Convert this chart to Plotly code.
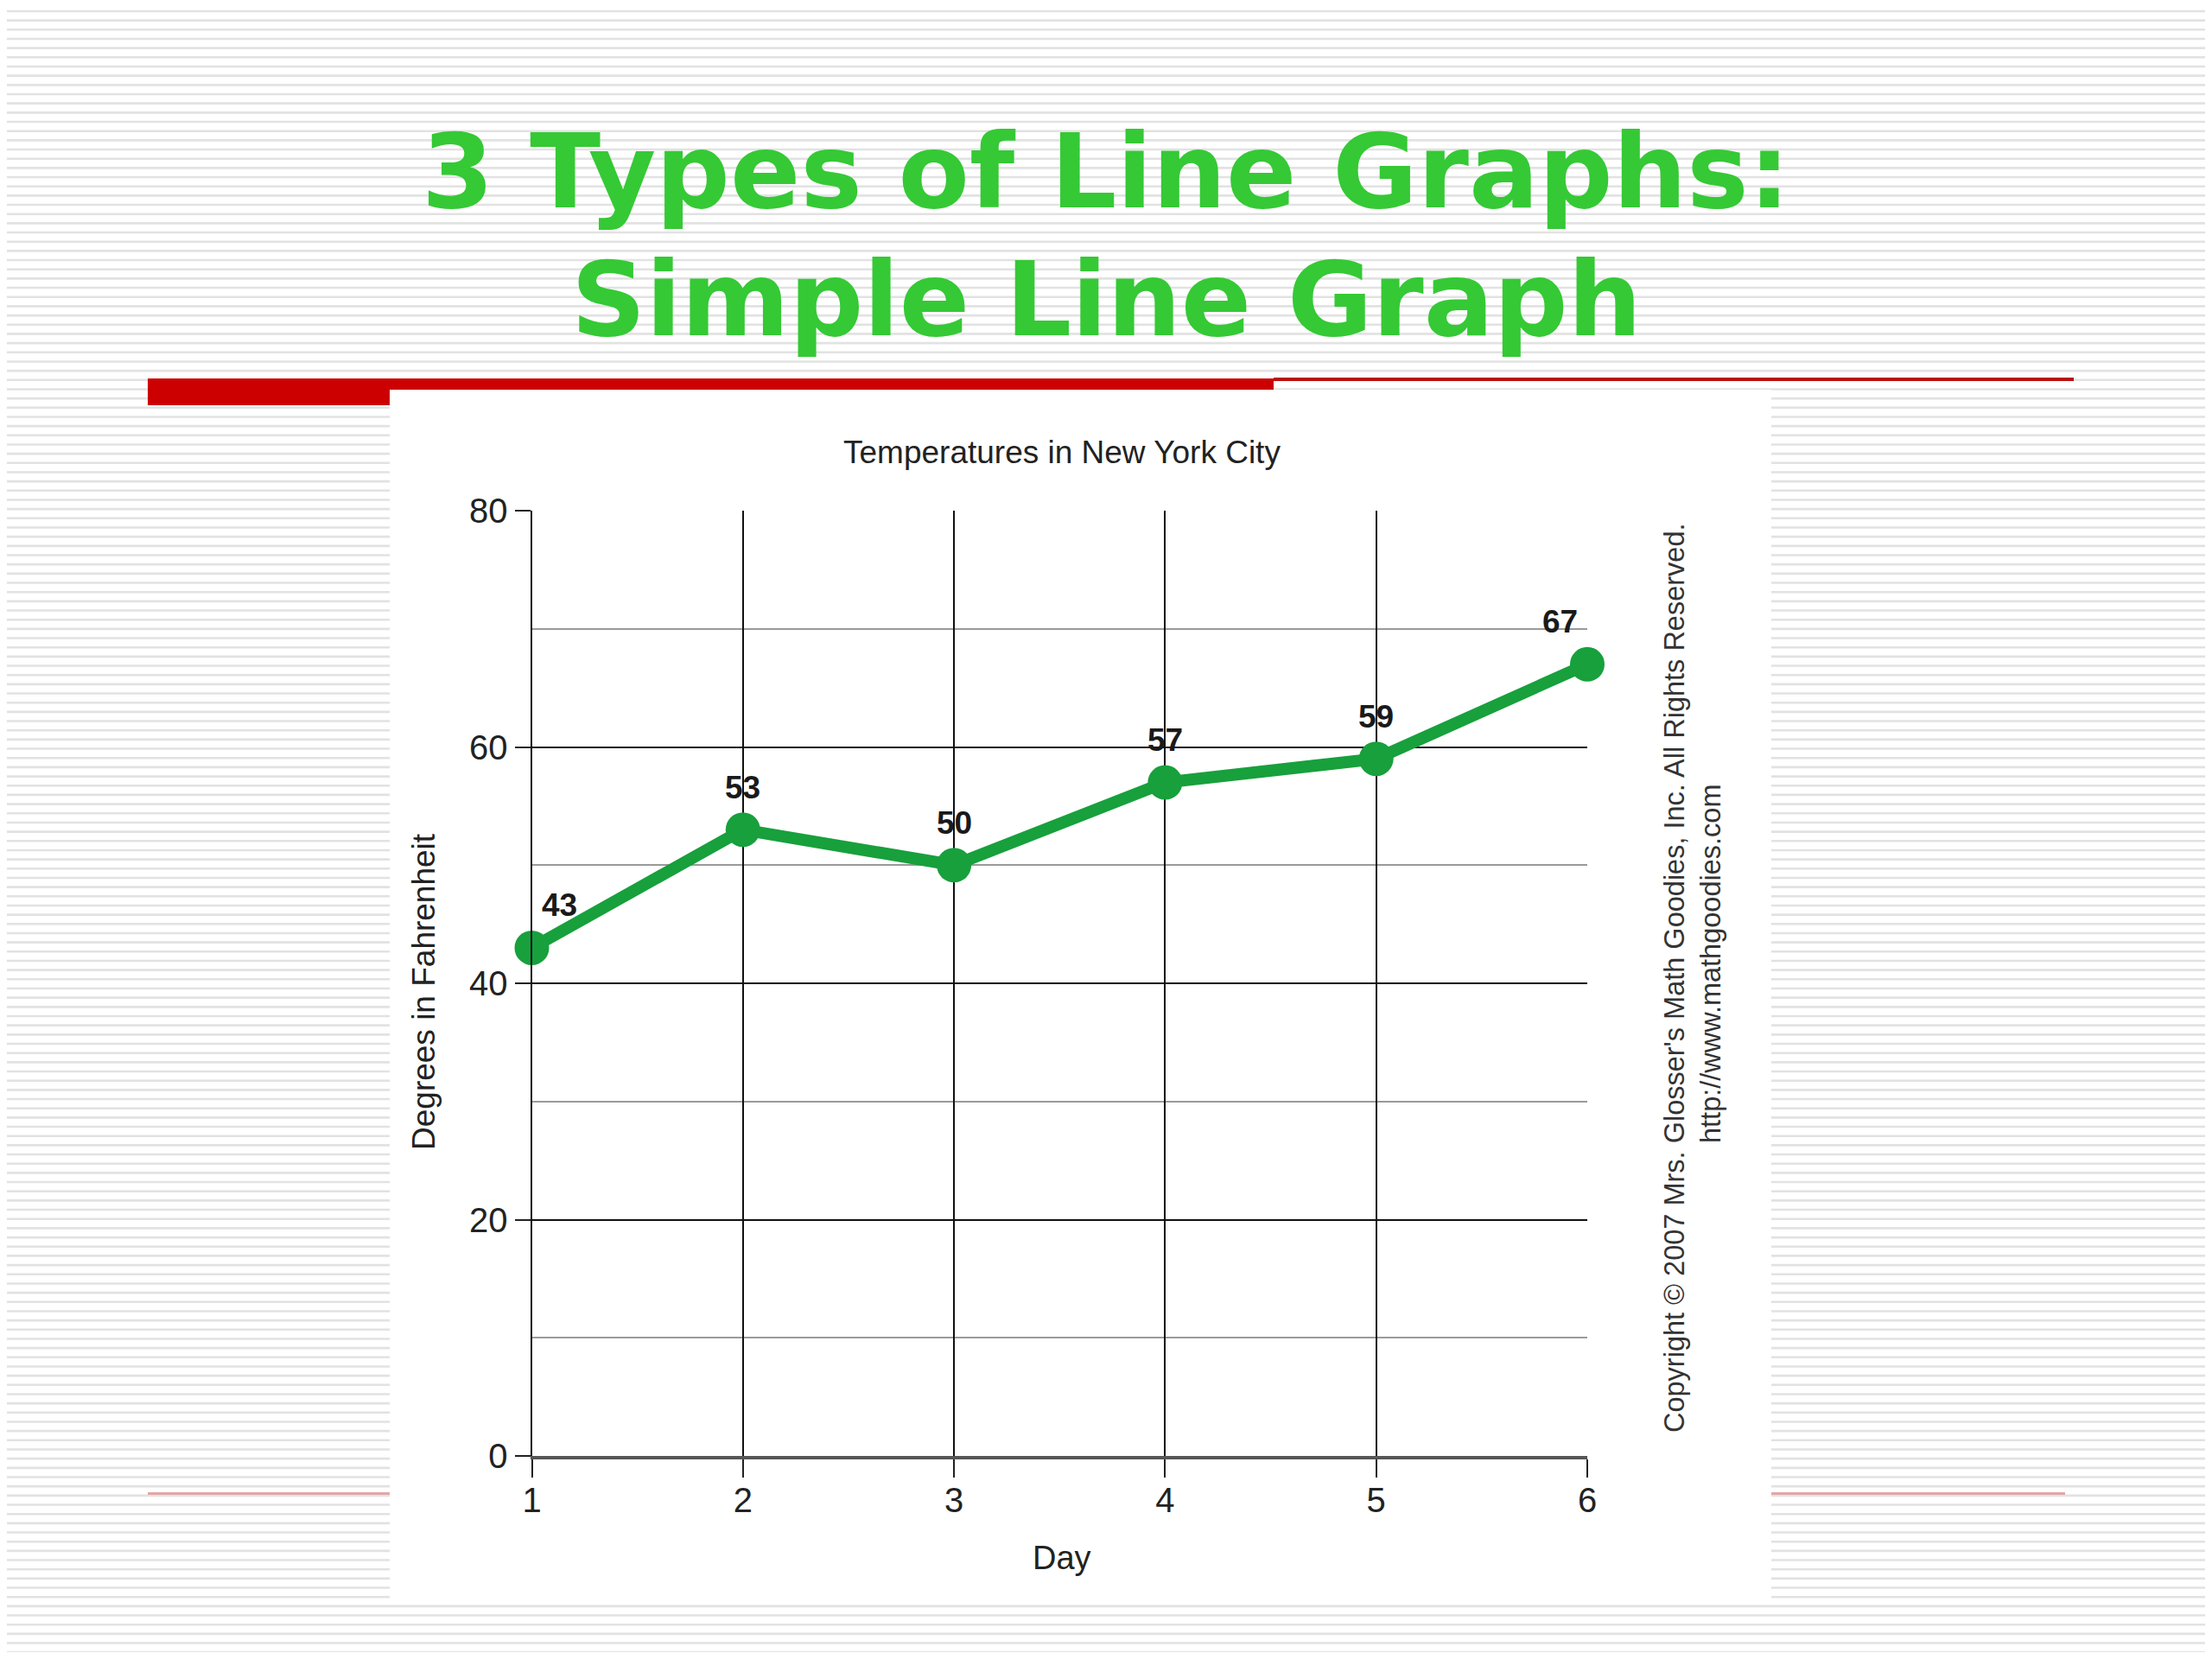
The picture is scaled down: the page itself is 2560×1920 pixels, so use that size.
import plotly.graph_objects as go

# ---- data ----
days = [1, 2, 3, 4, 5, 6]
temps = [43, 53, 50, 57, 59, 67]
y_ticks = [0, 20, 40, 60, 80]
x_ticks = [1, 2, 3, 4, 5, 6]
label_dx = [32, 0, 0, 0, 0, -32]

# figure sized to sit inside the window next to the page's body margin
OX, OY = 8, 8
W, H = 2544, 1904


def px(x):
    return (x - OX) / W


def py(y):
    return 1 - (y - OY) / H


shapes = []
# striped background
n = int(H / 10.67) + 3
for i in range(n):
    y0 = 1 + i * 10.67
    a, b = py(y0), py(y0 + 2.6)
    if b > 1 or a < 0:
        continue
    shapes.append(dict(type="rect", xref="paper", yref="paper",
                       x0=0, x1=1, y0=a, y1=b,
                       fillcolor="#e2e2e2", line=dict(width=0), layer="below"))
# red bars
shapes.append(dict(type="rect", xref="paper", yref="paper",
                   x0=px(171), x1=px(1474), y0=py(438), y1=py(469),
                   fillcolor="#cc0000", line=dict(width=0), layer="below"))
shapes.append(dict(type="rect", xref="paper", yref="paper",
                   x0=px(1474), x1=px(2400), y0=py(437), y1=py(441),
                   fillcolor="#b81010", line=dict(width=0), layer="below"))
shapes.append(dict(type="rect", xref="paper", yref="paper",
                   x0=px(171), x1=px(2390), y0=py(1727), y1=py(1730),
                   fillcolor="#e3a7a7", line=dict(width=0), layer="below"))
# white chart box
shapes.append(dict(type="rect", xref="paper", yref="paper",
                   x0=px(451), x1=px(2050), y0=py(451), y1=py(1856),
                   fillcolor="white", line=dict(width=0), layer="below"))

fig = go.Figure()
fig.add_trace(go.Scatter(
    x=days, y=temps, mode="lines+markers",
    line=dict(color="#17a03c", width=14),
    marker=dict(color="#17a03c", size=40),
    cliponaxis=False, showlegend=False, hoverinfo="skip"))

annotations = []
for d, t, dx in zip(days, temps, label_dx):
    annotations.append(dict(x=d, y=t, xref="x", yref="y", text="<b>" + str(t) + "</b>",
                            showarrow=False, xshift=dx, yshift=49,
                            xanchor="center", yanchor="middle",
                            font=dict(family="Liberation Sans", size=37, color="#1a1a1a")))


def ann(x, y, text, size, color, family="Liberation Sans", angle=0):
    return dict(x=px(x), y=py(y), xref="paper", yref="paper", text=text,
                showarrow=False, xanchor="center", yanchor="middle", textangle=angle,
                font=dict(family=family, size=size, color=color))


# main title
annotations.append(ann(1280, 199, "<b>3 Types of Line Graphs:</b>", 120, "#35c935", "DejaVu Sans"))
annotations.append(ann(1280, 346, "<b>Simple Line Graph</b>", 120, "#35c935", "DejaVu Sans"))
# chart title and axis titles
annotations.append(ann(1229, 524, "Temperatures in New York City", 37, "#222222"))
annotations.append(ann(1229, 1803, "Day", 38, "#222222"))
annotations.append(ann(490, 1148, "Degrees in Fahrenheit", 37, "#222222", angle=-90))
# copyright
annotations.append(ann(1938, 1132,
                       "Copyright \u00a9 2007 Mrs. Glosser's Math Goodies, Inc. All Rights Reserved.",
                       32.5, "#333333", "Liberation Sans Narrow, Liberation Sans", angle=-90))
annotations.append(ann(1980, 1116, "http://www.mathgoodies.com",
                       32.5, "#333333", "Liberation Sans Narrow, Liberation Sans", angle=-90))

fig.update_layout(
    width=W, height=H,
    margin=dict(l=0, r=0, t=0, b=0, pad=0, autoexpand=False),
    paper_bgcolor="white",
    plot_bgcolor="rgba(0,0,0,0)",
    shapes=shapes,
    annotations=annotations,
    xaxis=dict(domain=[px(615.5), px(1837)], range=[1, 6], automargin=False,
               tickvals=x_ticks, ticktext=[str(v) for v in x_ticks],
               showgrid=True, gridcolor="#111111", gridwidth=2,
               zeroline=False, showline=True, linecolor="#555555", linewidth=4,
               ticks="outside", ticklen=21, tickwidth=2, tickcolor="#222222",
               ticklabelstandoff=-8,
               tickfont=dict(family="Liberation Sans", size=40, color="#222222")),
    yaxis=dict(domain=[py(1685), py(591)], range=[0, 80], automargin=False,
               tickvals=y_ticks, ticktext=[str(v) for v in y_ticks],
               showgrid=True, gridcolor="#111111", gridwidth=2,
               minor=dict(dtick=10, showgrid=True, gridcolor="#9a9a9a", gridwidth=1.5),
               zeroline=False, showline=True, linecolor="#111111", linewidth=2,
               ticks="outside", ticklen=18, tickwidth=2, tickcolor="#222222",
               tickfont=dict(family="Liberation Sans", size=40, color="#222222")),
)

fig.write_html("out.html")
